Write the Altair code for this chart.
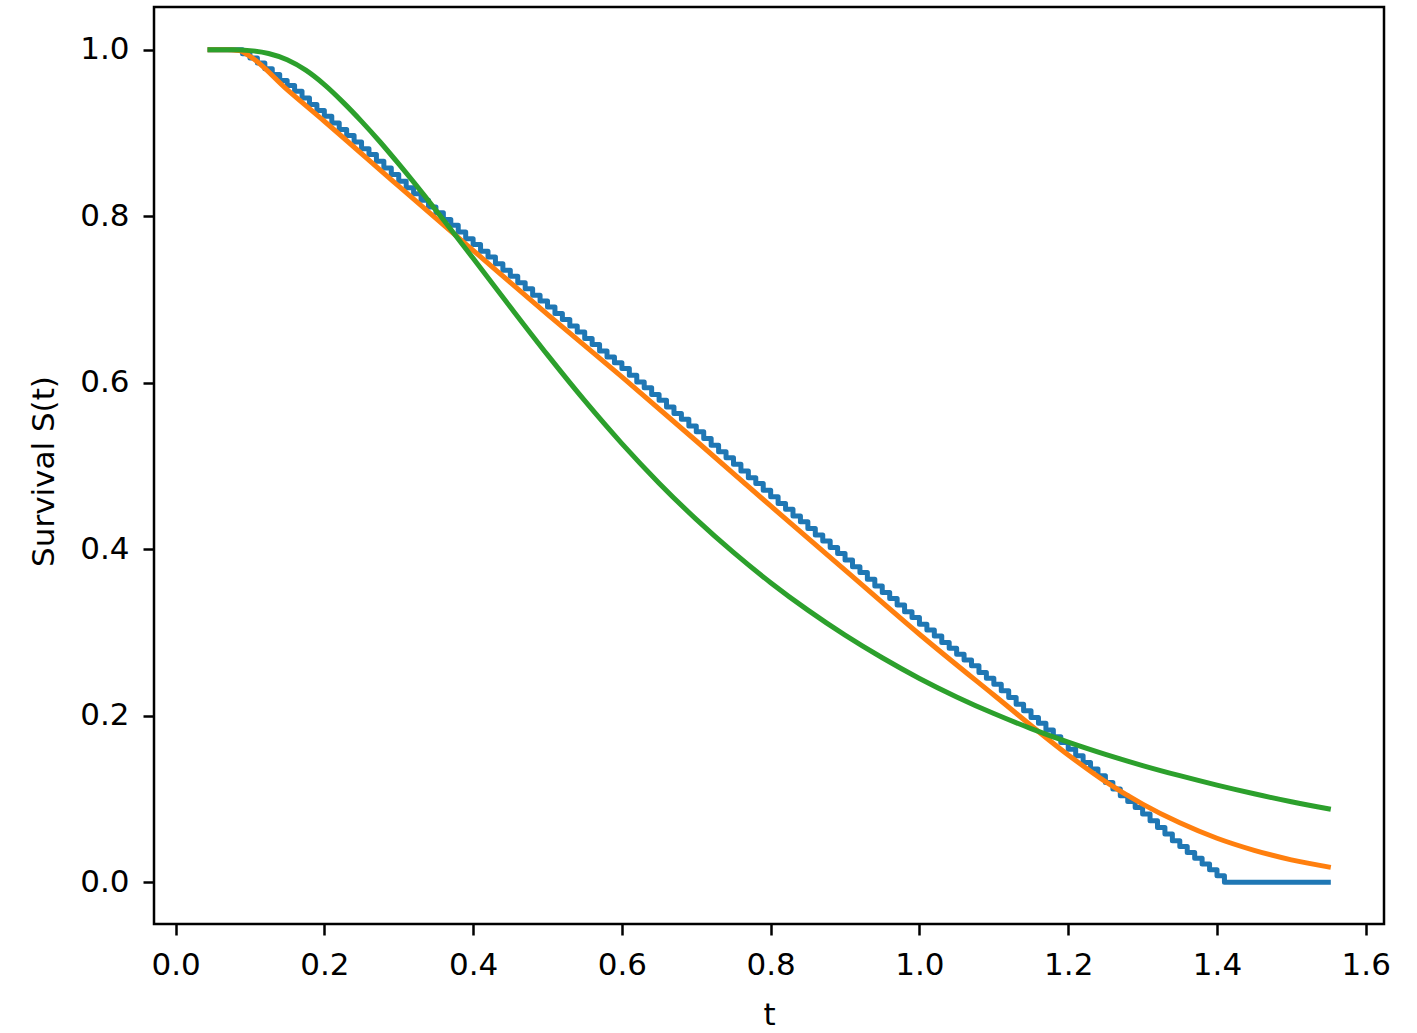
import altair as alt
import pandas as pd

# ---- data ----
blue_t = [0.043, 0.08,
          0.09, 0.10, 0.11, 0.12, 0.13, 0.14, 0.15, 0.16, 0.17, 0.18, 0.19, 0.20,
          0.21, 0.22, 0.23, 0.24, 0.25, 0.26, 0.27, 0.28, 0.29, 0.30,
          0.31, 0.32, 0.33, 0.34, 0.35, 0.36, 0.37, 0.38, 0.39, 0.40,
          0.41, 0.42, 0.43, 0.44, 0.45, 0.46, 0.47, 0.48, 0.49, 0.50,
          0.51, 0.52, 0.53, 0.54, 0.55, 0.56, 0.57, 0.58, 0.59, 0.60,
          0.61, 0.62, 0.63, 0.64, 0.65, 0.66, 0.67, 0.68, 0.69, 0.70,
          0.71, 0.72, 0.73, 0.74, 0.75, 0.76, 0.77, 0.78, 0.79, 0.80,
          0.81, 0.82, 0.83, 0.84, 0.85, 0.86, 0.87, 0.88, 0.89, 0.90,
          0.91, 0.92, 0.93, 0.94, 0.95, 0.96, 0.97, 0.98, 0.99, 1.00,
          1.01, 1.02, 1.03, 1.04, 1.05, 1.06, 1.07, 1.08, 1.09, 1.10,
          1.11, 1.12, 1.13, 1.14, 1.15, 1.16, 1.17, 1.18, 1.19, 1.20,
          1.21, 1.22, 1.23, 1.24, 1.25, 1.26, 1.27, 1.28, 1.29, 1.30,
          1.31, 1.32, 1.33, 1.34, 1.35, 1.36, 1.37, 1.38, 1.39, 1.40,
          1.41, 1.553]
blue_s = [1.0, 1.0,
          0.995, 0.990, 0.984, 0.977, 0.970, 0.963, 0.957, 0.950, 0.942, 0.934, 0.927, 0.920,
          0.912, 0.904, 0.897, 0.889, 0.881, 0.874, 0.866, 0.858, 0.850, 0.842,
          0.834, 0.827, 0.819, 0.811, 0.804, 0.796, 0.789, 0.781, 0.773, 0.766,
          0.758, 0.751, 0.743, 0.735, 0.728, 0.720, 0.713, 0.705, 0.698, 0.691,
          0.683, 0.676, 0.668, 0.661, 0.653, 0.646, 0.638, 0.631, 0.624, 0.617,
          0.609, 0.601, 0.594, 0.586, 0.579, 0.571, 0.563, 0.556, 0.548, 0.541,
          0.533, 0.525, 0.517, 0.510, 0.502, 0.494, 0.486, 0.479, 0.471, 0.463,
          0.455, 0.448, 0.440, 0.433, 0.425, 0.417, 0.410, 0.402, 0.395, 0.387,
          0.379, 0.372, 0.364, 0.356, 0.348, 0.341, 0.333, 0.325, 0.318, 0.310,
          0.303, 0.296, 0.288, 0.281, 0.274, 0.267, 0.260, 0.252, 0.245, 0.238,
          0.230, 0.222, 0.214, 0.206, 0.198, 0.191, 0.183, 0.175, 0.168, 0.160,
          0.152, 0.144, 0.136, 0.128, 0.120, 0.112, 0.104, 0.097, 0.090, 0.082,
          0.074, 0.066, 0.058, 0.050, 0.043, 0.036, 0.029, 0.022, 0.015, 0.008,
          0.0, 0.0]

orange_t = [0.043, 0.07, 0.085, 0.10, 0.15, 0.20, 0.30, 0.40, 0.50, 0.60, 0.70, 0.80,
            0.90, 1.00, 1.10, 1.20, 1.25, 1.30, 1.35, 1.40, 1.45, 1.50, 1.553]
orange_s = [1.0, 1.0, 0.999, 0.992, 0.952, 0.914, 0.836, 0.759, 0.682, 0.607, 0.530, 0.452,
            0.375, 0.298, 0.225, 0.153, 0.121, 0.094, 0.0715, 0.053, 0.0385, 0.027, 0.018]

green_t = [0.043, 0.05, 0.075, 0.10, 0.125, 0.15, 0.175, 0.20, 0.225, 0.25, 0.275, 0.30,
           0.35, 0.40, 0.45, 0.50, 0.55, 0.60, 0.65, 0.70, 0.75, 0.80, 0.85, 0.90, 0.95,
           1.00, 1.05, 1.10, 1.15, 1.20, 1.25, 1.30, 1.35, 1.40, 1.45, 1.50, 1.553]
green_s = [1.0, 1.0, 0.9999, 0.9988, 0.9953, 0.9878, 0.9753, 0.9580, 0.9370, 0.9139, 0.8891,
           0.8627, 0.8072, 0.7494, 0.6909, 0.6334, 0.5784, 0.5269, 0.4794, 0.4359, 0.3962,
           0.3599, 0.3269, 0.2969, 0.2697, 0.2449, 0.2227, 0.2027, 0.1847, 0.1684, 0.1537,
           0.1403, 0.1281, 0.1168, 0.1064, 0.0968, 0.0879]

x_ticks = [0.0, 0.2, 0.4, 0.6, 0.8, 1.0, 1.2, 1.4, 1.6]
y_ticks = [0.0, 0.2, 0.4, 0.6, 0.8, 1.0]

FONT = "DejaVu Sans"

df_blue = pd.DataFrame({"t": blue_t, "S": blue_s})
df_orange = pd.DataFrame({"t": orange_t, "S": orange_s})
df_green = pd.DataFrame({"t": green_t, "S": green_s})

x_enc = alt.X(
    "t:Q",
    scale=alt.Scale(domain=[-0.029, 1.6245], nice=False, zero=False),
    axis=alt.Axis(
        values=x_ticks, format=".1f", title="t", grid=False, domain=False,
        tickSize=11, tickWidth=2.5, tickColor="black",
        labelFont=FONT, labelFontSize=31, labelColor="black", labelPadding=15,
        labelFlush=False,
        titleFont=FONT, titleFontSize=31, titleFontWeight="normal", titleColor="black",
        titleX=615, titleY=100, titleBaseline="alphabetic",
    ),
)
y_enc = alt.Y(
    "S:Q",
    scale=alt.Scale(domain=[-0.05, 1.0512], nice=False, zero=False),
    axis=alt.Axis(
        values=y_ticks, format=".1f", title="Survival S(t)", grid=False, domain=False,
        tickSize=11, tickWidth=2.5, tickColor="black",
        labelFont=FONT, labelFontSize=31, labelColor="black", labelPadding=14,
        labelFlush=False,
        titleFont=FONT, titleFontSize=31, titleFontWeight="normal", titleColor="black",
        titleX=-101, titleY=464, titleBaseline="alphabetic", titleAngle=270,
    ),
)

LW = 5

blue = alt.Chart(df_blue).mark_line(
    interpolate="step-after", color="#1f77b4", strokeWidth=LW, strokeJoin="round"
).encode(x=x_enc, y=y_enc)

orange = alt.Chart(df_orange).mark_line(
    interpolate="monotone", color="#ff7f0e", strokeWidth=LW
).encode(x=x_enc, y=y_enc)

green = alt.Chart(df_green).mark_line(
    interpolate="monotone", color="#2ca02c", strokeWidth=LW
).encode(x=x_enc, y=y_enc)

chart = alt.layer(blue, orange, green).properties(
    width=1230,
    height=917,
    autosize="none",
    padding={"left": 154, "top": 7, "right": 33, "bottom": 109},
    background="white",
).configure_view(stroke="black", strokeWidth=2.5)

chart.save("out.html", embed_options={"renderer": "svg", "actions": False})
